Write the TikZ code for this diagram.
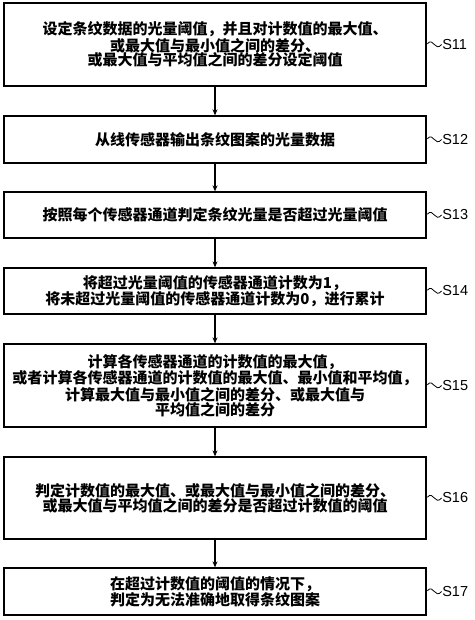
\documentclass[tikz,border=0pt]{standalone}
\usepackage{fontspec}
\newfontfamily\cjk{Noto Sans CJK SC}
\newfontfamily\stepfont{Liberation Sans}
\usepackage{tikz}
\usetikzlibrary{positioning}
\usetikzlibrary{arrows.meta}

\begin{document}
\begin{tikzpicture}[x=1pt, y=-1pt, line width=1.3pt, >={Stealth[length=6pt,width=5pt]}]
        \tikzstyle{stepbox}=[draw, minimum width=422pt, inner sep=3pt, align=center, font=\cjk\bfseries\fontsize{15}{14.8}\selectfont]
        \tikzstyle{steplabel}=[inner sep=0pt, font=\stepfont\fontsize{14.5}{16}\selectfont]
        \tikzstyle{leader}=[line width=0.8pt, shorten <=1pt]
        % Parameters
        \def\boxX{215}

        \useasboundingbox (0,0) rectangle (474,620);

        % Steps, top to bottom
        \node[stepbox, minimum height=83pt] (S-1) at (\boxX,44.5) {设定条纹数据的光量阈值，并且对计数值的最大值、\\或最大值与最小值之间的差分、\\或最大值与平均值之间的差分设定阈值};
        \node[stepbox, minimum height=47pt] (S-2) at (\boxX,139.5) {从线传感器输出条纹图案的光量数据};
        \node[stepbox, minimum height=46pt] (S-3) at (\boxX,215) {按照每个传感器通道判定条纹光量是否超过光量阈值};
        \node[stepbox, minimum height=46pt] (S-4) at (\boxX,291) {将超过光量阈值的传感器通道计数为1，\\将未超过光量阈值的传感器通道计数为0，进行累计};
        \node[stepbox, minimum height=83pt] (S-5) at (\boxX,385.5) {计算各传感器通道的计数值的最大值，\\或者计算各传感器通道的计数值的最大值、最小值和平均值，\\计算最大值与最小值之间的差分、或最大值与\\平均值之间的差分};
        \node[stepbox, minimum height=82pt] (S-6) at (\boxX,498) {判定计数值的最大值、或最大值与最小值之间的差分、\\或最大值与平均值之间的差分是否超过计数值的阈值};
        \node[stepbox, minimum height=47pt] (S-7) at (\boxX,591.5) {在超过计数值的阈值的情况下，\\判定为无法准确地取得条纹图案};

        % Connect each step to the next one
        \foreach \i [count=\j from 2] in {1,...,6}
            \draw[->] (S-\i) -- (S-\j);

        % Step numbers with wavy leaders
        \foreach \i in {1,...,7} {
            \node[steplabel, right=15pt of S-\i.east] (L-\i) {S1\i};
            \draw[leader] (S-\i.east) .. controls +(7,-8) and +(-7,8) .. (L-\i.west);
        }
    \end{tikzpicture}
\end{document}
